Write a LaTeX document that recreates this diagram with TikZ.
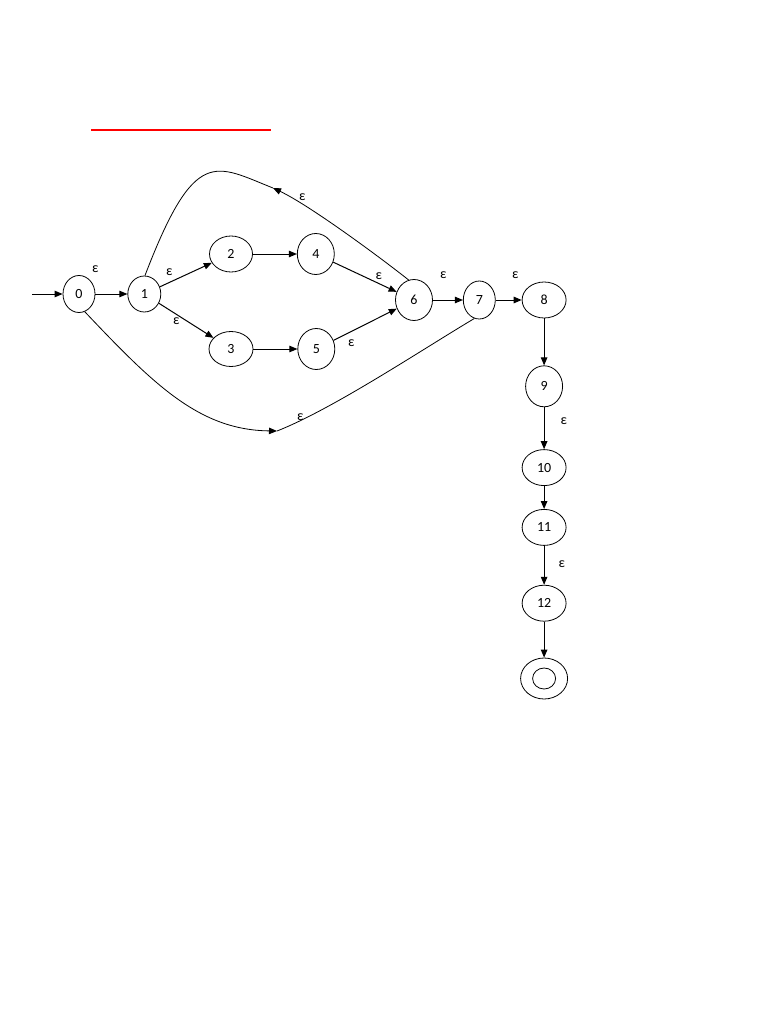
\documentclass[tikz,border=0pt]{standalone}
\usepackage{fontspec}
\setmainfont{Carlito}
\usetikzlibrary{shapes.geometric, arrows.meta, positioning}
\tikzstyle{st} = [ellipse, draw=black, line width=0.8pt, inner sep=0pt, minimum width=32pt, minimum height=37pt, font=\fontsize{14}{16}\selectfont]
\tikzstyle{stwide} = [st, minimum width=44pt, minimum height=36pt]
\tikzstyle{sttall} = [st, minimum width=37pt, minimum height=41pt]
\tikzstyle{arrow} = [line width=1pt, -{Triangle[length=8pt,width=6.5pt]}]
\tikzstyle{curve} = [line width=0.8pt]
\tikzstyle{eps} = [inner sep=0pt, font=\fontsize{14}{16}\selectfont]

\begin{document}
\begin{tikzpicture}[x=1pt, y=1pt]
    \useasboundingbox (0,0) rectangle (768,-1024);
    \draw [red, line width=2pt] (91,-130) -- (271,-130);

    \coordinate (start) at (32,-294);
    \node (n0) [st] at (79,-294) {0};
    \node (n1) [st, right=32pt of n0, minimum width=33pt, minimum height=36pt] {1};
    \node (n2) [stwide, minimum width=43pt] at (231,-254) {2};
    \node (n3) [stwide, minimum height=35pt] at (231,-349) {3};
    \node (n4) [sttall, right=44pt of n2] {4};
    \node (n5) [sttall, right=44pt of n3] {5};
    \node (n6) [sttall] at (414,-300) {6};
    \node (n7) [st, right=30pt of n6, minimum height=38pt] {7};
    \node (n8) [stwide, right=26pt of n7] {8};
    \node (n9) [sttall, below=47pt of n8] {9};
    \node (n10) [stwide, below=42pt of n9] {10};
    \node (n11) [stwide, below=23pt of n10] {11};
    \node (n12) [stwide, below=39pt of n11] {12};
    \node (nf) [st, below=36pt of n12, minimum width=47pt, minimum height=41pt] {};
    \node (nfin) [st, minimum width=23pt, minimum height=21pt] at (nf) {};

    \draw [arrow] (start) -- (n0);
    \draw [arrow] (n0) -- node[eps, pos=0, above=21pt] {ε} (n1);
    \draw [arrow] (n1) -- node[eps, pos=0.18, above=6pt] {ε} (n2);
    \draw [arrow] (n1) -- node[eps, pos=0.32, below=3pt] {ε} (n3);
    \draw [arrow] (n2) -- (n4);
    \draw [arrow] (n3) -- (n5);
    \draw [arrow] (n4) -- node[eps, pos=0.72, above=3pt] {ε} (n6);
    \draw [arrow] (n5) -- node[eps, pos=0.28, below=8pt] {ε} (n6);
    \draw [arrow] (n6) -- node[eps, pos=0.35, above=21pt] {ε} (n7);
    \draw [arrow] (n7) -- node[eps, pos=0.75, above=21pt] {ε} (n8);
    \draw [arrow] (n8) -- (n9);
    \draw [arrow] (n9) -- node[eps, pos=0.33, right=16pt] {ε} (n10);
    \draw [arrow] (n10) -- (n11);
    \draw [arrow] (n11) -- node[eps, pos=0.46, right=14pt] {ε} (n12);
    \draw [arrow] (n12) -- (nf);

    % loops back over the top and skip underneath
    \coordinate (topmid) at (273,-188);
    \coordinate (botmid) at (277,-431);
    \draw [arrow, curve] (n6.105) .. controls (377,-255) and (309,-205) .. node[eps, pos=0.8, above right=1pt] {ε} (topmid);
    \draw [curve] (topmid) .. controls (215,-165) and (195,-145) .. (n1.88);
    \draw [arrow, curve] (n0.-72) .. controls (155,-386) and (200,-430) .. (botmid);
    \draw [curve] (botmid) .. controls (333,-409) and (423,-349) .. node[eps, pos=0.13, above=0pt] {ε} (n7.-105);

\end{tikzpicture}
\end{document}
